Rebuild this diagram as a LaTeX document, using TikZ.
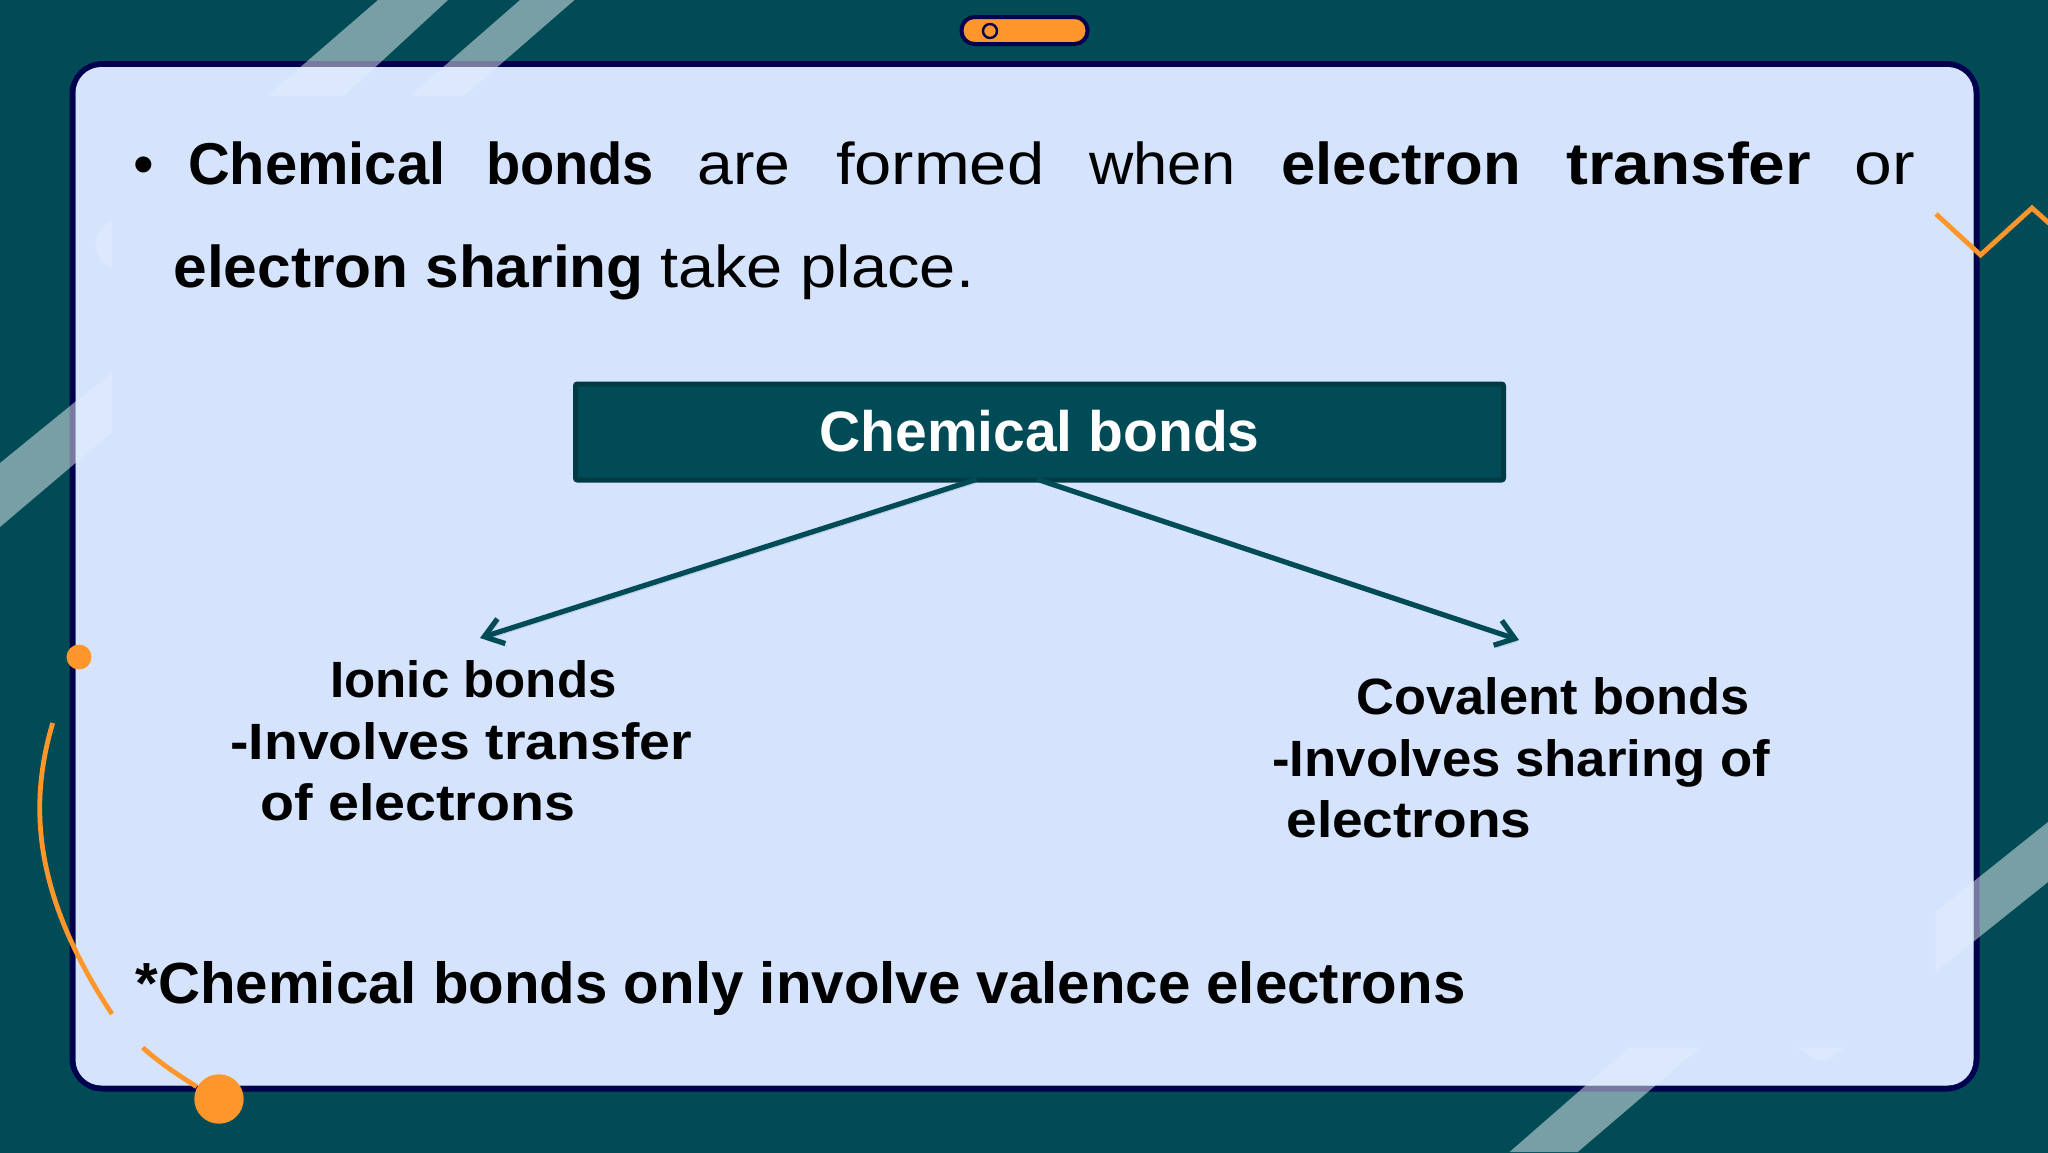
\documentclass[tikz,border=0pt]{standalone}
\usepackage{fontspec}
\usetikzlibrary{arrows.meta,calc}
\setmainfont{Liberation Sans}
\definecolor{bgc}{HTML}{004B55}
\definecolor{cardc}{HTML}{D5E4FC}
\definecolor{navy}{HTML}{00004F}
\definecolor{orangec}{HTML}{FF962B}
\definecolor{boxedge}{HTML}{003B44}
\definecolor{shadowc}{HTML}{BACBE8}
\newcommand{\hx}[2]{\scalebox{#1}[1]{#2}}
\newcommand{\wrd}[2]{\makebox[#1pt][l]{#2}}
\tikzset{
  stripe/.style={fill=white,fill opacity=.47},
  innerstripe/.style={fill=white,fill opacity=.17},
  accent/.style={draw=orangec,line width=2.4pt},
  dot/.style={circle,fill=orangec,inner sep=0pt},
  headbox/.style={draw=boxedge,fill=bgc,line width=2.5pt,rounded corners=1pt,minimum width=464pt,minimum height=48pt,inner sep=0pt,outer sep=0pt,text=white,font=\fontsize{28.5}{34}\selectfont\bfseries},
  linkarrow/.style={draw=bgc,line width=2.6pt,line cap=round,-{Straight Barb[length=9pt,width=13pt,line width=2.6pt]},preaction={draw=shadowc,transform canvas={xshift=.8pt,yshift=-1.5pt}}},
  bodytext/.style={anchor=base west,inner sep=0pt,font=\fontsize{29.5}{34}\selectfont,text=black},
  branch/.style={anchor=west,inner sep=0pt,align=left,font=\fontsize{25.5}{30.75}\selectfont\bfseries,text=black}
}
\begin{document}
\begin{tikzpicture}[x=.5pt,y=-.5pt]
\useasboundingbox (0,0) rectangle (2048,1152);
\fill[bgc] (-10,-10) rectangle (2058,1162);
\clip (0,0) rectangle (2048,1152);
% card border
\draw[navy,line width=3pt,rounded corners=15pt] (72.5,64) rectangle (1976.5,1088.5);
% stripes over background and border
\path[stripe] (378,0) -- (448,0) -- (344,96) -- (267,96) -- cycle;
\path[stripe] (520,0) -- (574.5,0) -- (464,96) -- (410,96) -- cycle;
\path[stripe] (0,463) -- (75,402) -- (112,373) -- (112,432) -- (0,527) -- cycle;
\path[stripe] (2048,822) -- (2048,882) -- (1935.5,972) -- (1935.5,912) -- cycle;
\path[stripe] (1509.5,1152) -- (1577.7,1152) -- (1699.6,1047.7) -- (1629,1047.7) -- cycle;
% card interior
\begin{scope}
\clip[rounded corners=13pt] (75.5,67) rectangle (1973.5,1085.5);
\fill[cardc] (0,0) rectangle (2048,1152);
\path[innerstripe] (378,0) -- (448,0) -- (344,96) -- (267,96) -- cycle;
\path[innerstripe] (520,0) -- (574.5,0) -- (464,96) -- (410,96) -- cycle;
\path[innerstripe] (0,463) -- (75,402) -- (112,373) -- (112,432) -- (0,527) -- cycle;
\path[innerstripe] (2048,822) -- (2048,882) -- (1935.5,972) -- (1935.5,912) -- cycle;
\path[innerstripe] (1509.5,1152) -- (1577.7,1152) -- (1699.6,1047.7) -- (1629,1047.7) -- cycle;
\path[innerstripe] (1797.5,1047.7) -- (1844,1047.7) -- (1828,1060) -- (1817,1060) -- cycle;
\path[innerstripe] (112,221) .. controls (90,232) and (90,258) .. (112,268) -- cycle;
\end{scope}
% accents
\draw[accent] (52.7,723) .. controls (30,800) and (30,890) .. (112,1014);
\draw[accent] (142.7,1047.6) .. controls (160,1063) and (178,1075) .. (196.7,1086.6);
\draw[accent,line join=miter] (1936,214) -- (1980.5,255) -- (2032,208) -- (2060,233);
\node[dot,minimum size=12.5pt] (smalldot) at (79,657) {};
\node[dot,minimum size=24.7pt] (bigdot) at (219,1099) {};
% pill
\node[draw=navy,fill=orangec,line width=2pt,rounded corners=6.5pt,minimum width=63pt,minimum height=13.5pt,inner sep=0pt] (pill) at (1024.5,30.5) {};
\node[draw=navy,circle,line width=1.2pt,minimum size=7pt,inner sep=0pt] (pillhole) at (990,31) {};
% text
\node[bodytext] (line1) at (133,184.6) {\wrd{27.4}{•}\wrd{148.9}{\textbf{\hx{.98}{Chemical}}}\wrd{105.8}{\textbf{\hx{.95}{bonds}}}\wrd{69.2}{\hx{1.09}{are}}\wrd{126.7}{\hx{1.135}{formed}}\wrd{96}{\hx{1.04}{when}}\wrd{142.4}{\textbf{\hx{1.045}{electron}}}\wrd{144.3}{\textbf{\hx{1.115}{transfer}}}\hx{1.15}{or}};
\node[bodytext] (line2) at (173,287.4) {\hx{1.025}{\textbf{electron sharing}} \hx{1.10}{take place.}};
\node[headbox] (box) at (1039.5,432) {\raisebox{.7pt}{Chemical bonds}};
\node[branch] (ionic) at (230,741) {\hspace*{50pt}Ionic bonds\\\hx{1.086}{-Involves transfer}\\\hspace*{15pt}\hx{1.09}{of electrons}};
\node[branch] (covalent) at (1272,758) {\hspace*{42pt}\hx{1.027}{Covalent bonds}\\\hx{1.033}{-Involves sharing of}\\\hspace*{7pt}\hx{1.08}{electrons}};
\node[bodytext,font=\fontsize{29}{34}\selectfont\bfseries] (note) at (135,1003.4) {\hx{1.004}{*Chemical bonds only involve valence electrons}};
% connectors
\coordinate (iontip) at (480,638);
\coordinate (covtip) at (1519,640);
\draw[linkarrow] ([xshift=-32.5pt]box.south) -- (iontip);
\draw[linkarrow] (box.south) -- (covtip);
\end{tikzpicture}
\end{document}
